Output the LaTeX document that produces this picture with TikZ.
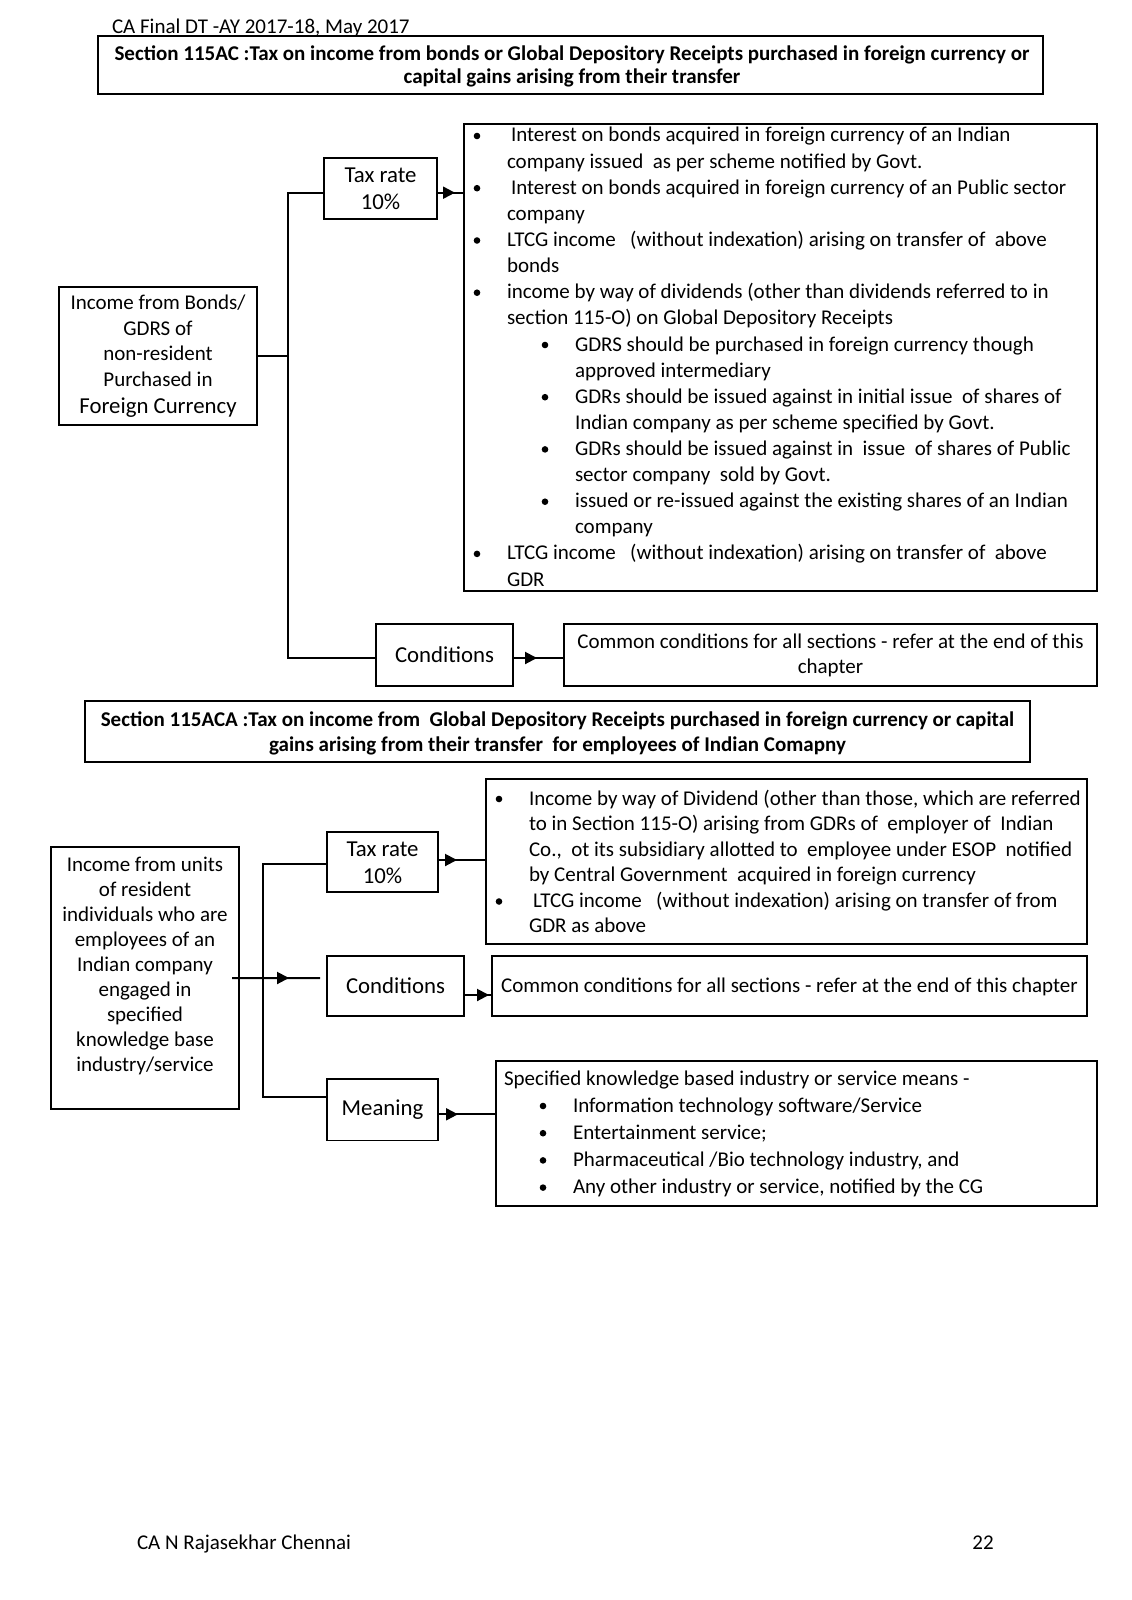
\documentclass[tikz,border=0pt]{standalone}
\usepackage{fontspec}
\setmainfont{Carlito}
\usetikzlibrary{arrows.meta,decorations.markings}
\newcommand{\bodyfont}{\fontsize{21bp}{25.5bp}\selectfont}
\newcommand{\lblfont}{\fontsize{22.8bp}{27bp}\selectfont}
\begin{document}
\begin{tikzpicture}[x=1bp,y=-1bp,
  every node/.style={font=\bodyfont, inner sep=0pt, outer sep=0pt},
  box/.style={draw, line width=1.6bp, anchor=north west},
  thinbox/.style={draw, line width=1.1bp, anchor=north west},
  conn/.style={line width=2bp},
  tipat/.style={postaction={decorate}, decoration={markings, mark=at position #1 with {\arrow{Triangle[length=12bp,width=12bp]}}}},
  ln/.style={anchor=base west},
  ctext/.style={align=center},
  lbl/.style={align=center, font=\lblfont},
  ttl/.style={align=center, font=\bfseries\fontsize{21bp}{23.5bp}\selectfont}]
\useasboundingbox (0,0) rectangle (1131,1600);

% header and footer
\node[anchor=base west] (hdr) at (112,34) {CA Final DT -AY 2017-18, May 2017};
\node[anchor=base west] (ftr) at (137,1549) {CA N Rajasekhar Chennai};
\node[anchor=base] (pg) at (983,1549) {22};

% ---------- Section 115AC ----------
\node[box, minimum width=945bp, minimum height=58bp] (t1) at (98,36) {};
\node[ttl] (t1txt) at (572,66.5) {Section 115AC :Tax on income from bonds or Global Depository Receipts purchased in foreign currency or\\capital gains arising from their transfer};

\node[box, minimum width=198bp, minimum height=138bp] (inc1) at (59,287) {};
\node[ctext] (inc1txt) at (158,356) {Income from Bonds/\\GDRS of\\non-resident\\Purchased in\\[1.5bp]{\fontsize{22.8bp}{27bp}\selectfont Foreign Currency}};

\node[box, minimum width=113bp, minimum height=61bp] (tax1) at (324,158) {};
\node[lbl] (tax1txt) at (380.5,188.5) {Tax rate\\10\%};

\node[thinbox, minimum width=633bp, minimum height=467bp] (big) at (464,124) {};
\node[ln] (a1) at (511,142) {Interest on bonds acquired in foreign currency of an Indian};
\node[ln] (a2) at (507,168.1) {company issued~ as per scheme notified by Govt.};
\node[ln] (a3) at (511,194.2) {Interest on bonds acquired in foreign currency of an Public sector};
\node[ln] (a4) at (507,220.4) {company};
\node[ln] (a5) at (507,246.5) {LTCG income~~ (without indexation) arising on transfer of~ above};
\node[ln] (a6) at (507,272.6) {bonds};
\node[ln] (a7) at (507,298.7) {income by way of dividends (other than dividends referred to in};
\node[ln] (a8) at (507,324.8) {section 115-O) on Global Depository Receipts};
\node[ln] (a9) at (575,351) {GDRS should be purchased in foreign currency though};
\node[ln] (a10) at (575,377.1) {approved intermediary};
\node[ln] (a11) at (575,403.2) {GDRs should be issued against in initial issue~ of shares of};
\node[ln] (a12) at (575,429.3) {Indian company as per scheme specified by Govt.};
\node[ln] (a13) at (575,455.4) {GDRs should be issued against in~ issue~ of shares of Public};
\node[ln] (a14) at (575,481.6) {sector company~ sold by Govt.};
\node[ln] (a15) at (575,507.7) {issued or re-issued against the existing shares of an Indian};
\node[ln] (a16) at (575,533.8) {company};
\node[ln] (a17) at (507,559.9) {LTCG income~~ (without indexation) arising on transfer of~ above};
\node[ln] (a18) at (507,586) {GDR};
\foreach \yy in {136,188.2,240.5,292.7,553.9} \fill (477,\yy) circle (3.3bp);
\foreach \yy in {345,397.2,449.4,501.7} \fill (545,\yy) circle (3.3bp);

\node[box, minimum width=137bp, minimum height=62bp] (cond1) at (376,624) {};
\node[lbl] (cond1txt) at (444.5,655) {Conditions};
\node[box, minimum width=533bp, minimum height=62bp] (com1) at (564,624) {};
\node[ctext] (com1txt) at (830.5,655.5) {Common conditions for all sections - refer at the end of this\\chapter};

\coordinate (s1top) at (288,192.7);
\coordinate (s1bot) at (288,658);
\draw[conn] (inc1.east) -- (inc1.east -| s1top);
\draw[conn] (tax1.west |- s1top) -- (s1top) -- (s1bot) -- (cond1.west |- s1bot);
\draw[conn, tipat=18bp] (tax1.east |- s1top) -- (big.west |- s1top);
\draw[conn, tipat=24bp] (cond1.east |- s1bot) -- (com1.west |- s1bot);

% ---------- Section 115ACA ----------
\node[box, minimum width=945bp, minimum height=61bp] (t2) at (85,701) {};
\node[ttl, font=\bfseries\fontsize{21bp}{25bp}\selectfont] (t2txt) at (557.5,733) {Section 115ACA :Tax on income from~ Global Depository Receipts purchased in foreign currency or capital\\gains arising from their transfer~ for employees of Indian Comapny};

\node[box, minimum width=188bp, minimum height=262bp] (inc2) at (51,847) {};
\node[ctext, font=\fontsize{21bp}{25bp}\selectfont] (inc2txt) at (145,966) {Income from units\\of resident\\individuals who are\\employees of an\\Indian company\\engaged in\\specified\\knowledge base\\industry/service};

\node[box, minimum width=111bp, minimum height=60bp] (tax2) at (327,832) {};
\node[lbl] (tax2txt) at (382.5,862.5) {Tax rate\\10\%};

\node[box, minimum width=601bp, minimum height=165bp] (bb) at (486,779) {};
\node[ln] (b1) at (529,805) {Income by way of Dividend (other than those, which are referred};
\node[ln] (b2) at (529,830.5) {to in Section 115-O) arising from GDRs of~ employer of~ Indian};
\node[ln] (b3) at (529,856) {Co.,~ ot its subsidiary allotted to~ employee under ESOP~ notified};
\node[ln] (b4) at (529,881.5) {by Central Government~ acquired in foreign currency};
\node[ln] (b5) at (533,907) {LTCG income~~ (without indexation) arising on transfer of from};
\node[ln] (b6) at (529,932.5) {GDR as above};
\foreach \yy in {799,901.5} \fill (499,\yy) circle (3.3bp);

\node[box, minimum width=137bp, minimum height=60bp] (cond2) at (327,956) {};
\node[lbl] (cond2txt) at (395.5,986) {Conditions};
\node[box, minimum width=595bp, minimum height=60bp] (com2) at (492,956) {};
\node (com2txt) at (789.5,986.5) {Common conditions for all sections - refer at the end of this chapter};

\node[box, minimum width=111bp, minimum height=61.5bp] (mean) at (327,1079) {};
\node[lbl] (meantxt) at (382.5,1110) {Meaning};

\node[box, minimum width=601bp, minimum height=145bp] (mdef) at (496,1061) {};
\node[ln] (m0) at (504,1085) {Specified knowledge based industry or service means -};
\node[ln] (m1) at (573,1112) {Information technology software/Service};
\node[ln] (m2) at (573,1139.2) {Entertainment service;};
\node[ln] (m3) at (573,1166.4) {Pharmaceutical /Bio technology industry, and};
\node[ln] (m4) at (573,1193.6) {Any other industry or service, notified by the CG};
\foreach \yy in {1106,1133.2,1160.4,1187.6} \fill (543,\yy) circle (3.3bp);

\coordinate (s2top) at (263.3,864);
\coordinate (s2bot) at (263.3,1097);
\coordinate (c2end) at (320,978);
\draw[conn] (tax2.west |- s2top) -- (s2top) -- (s2bot) -- (mean.west |- s2bot);
\draw[conn, tipat=57bp] ([xshift=-7bp]inc2.east) -- (c2end);
\coordinate (r2) at (0,860);
\coordinate (r3) at (0,995);
\coordinate (r4) at (0,1114.3);
\draw[conn, tipat=19bp] (tax2.east |- r2) -- (bb.west |- r2);
\draw[conn, tipat=25bp] (cond2.east |- r3) -- (com2.west |- r3);
\draw[conn, tipat=20bp] (mean.east |- r4) -- (mdef.west |- r4);
\end{tikzpicture}
\end{document}
